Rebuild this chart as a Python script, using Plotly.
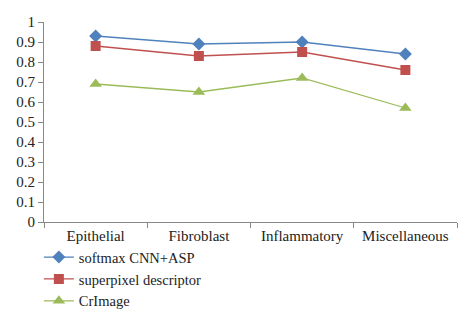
import plotly.graph_objects as go

categories = ["Epithelial", "Fibroblast", "Inflammatory", "Miscellaneous"]
softmax_cnn_asp = [0.93, 0.89, 0.90, 0.84]
superpixel_descriptor = [0.88, 0.83, 0.85, 0.76]
crimage = [0.69, 0.65, 0.72, 0.57]
y_ticks = [0, 0.1, 0.2, 0.3, 0.4, 0.5, 0.6, 0.7, 0.8, 0.9, 1]
y_tick_labels = ["0", "0.1", "0.2", "0.3", "0.4", "0.5", "0.6", "0.7", "0.8", "0.9", "1"]

series = [
    ("softmax CNN+ASP", softmax_cnn_asp, "#4F81BD", "diamond", 10),
    ("superpixel descriptor", superpixel_descriptor, "#C0504D", "square", 10),
    ("CrImage", crimage, "#9BBB59", "triangle-up", 11),
]

fig = go.Figure()
for name, vals, color, sym, size in series:
    fig.add_trace(go.Scatter(
        x=categories, y=vals, name=name, mode="lines+markers",
        line=dict(color=color, width=1.3),
        marker=dict(symbol=sym, size=size, color=color),
    ))

font_family = "Liberation Serif, DejaVu Serif, serif"
fig.update_layout(
    width=474, height=325,
    margin=dict(l=44, r=17, t=22, b=103, autoexpand=False),
    paper_bgcolor="white", plot_bgcolor="white",
    font=dict(family=font_family, size=14, color="#222"),
    showlegend=True,
    legend=dict(x=0.082, y=0.258, xref="container", yref="container",
                xanchor="left", yanchor="top",
                font=dict(family=font_family, size=14.5, color="#222"),
                tracegroupgap=0, itemwidth=30, bgcolor="rgba(0,0,0,0)"),
    xaxis=dict(type="category", range=[-0.5, 3.5], showline=True, linecolor="#888",
               linewidth=1, ticks="outside", tickson="boundaries", ticklen=5,
               tickcolor="#888", showgrid=False, zeroline=False,
               tickfont=dict(size=15)),
    yaxis=dict(range=[0, 1], tickvals=y_ticks, ticktext=y_tick_labels,
               showline=True, linecolor="#888", linewidth=1, ticks="outside",
               ticklen=5, tickcolor="#888", showgrid=False, zeroline=False,
               tickfont=dict(size=15)),
)

fig.write_html("out.html")
